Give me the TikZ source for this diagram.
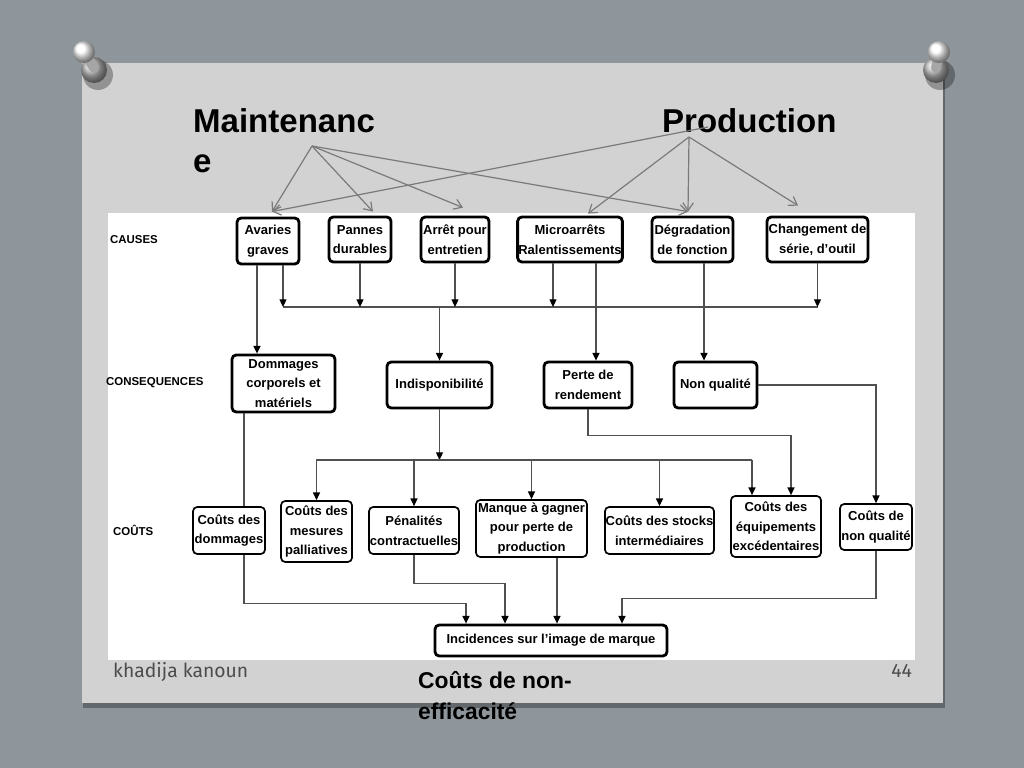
\documentclass[tikz,border=0pt]{standalone}
\usepackage{fontspec}
\setmainfont{Liberation Sans}
\newfontfamily\handfont{Fira Sans}
\usetikzlibrary{arrows.meta}

\definecolor{wallgray}{HTML}{8E969B}
\definecolor{panelgray}{HTML}{D2D2D2}
\definecolor{linegray}{HTML}{505050}
\definecolor{pengray}{HTML}{7A7A7A}

\newcommand{\mtitle}{\fontsize{47}{57}\selectfont\bfseries}
\newcommand{\msubtitle}{\fontsize{32.5}{45}\selectfont\bfseries}
\newcommand{\mboxfont}{\fontsize{18.5}{28}\selectfont\bfseries}
\newcommand{\mrowfont}{\fontsize{16.3}{20}\selectfont\bfseries}
\newcommand{\mfootfont}{\handfont\fontsize{27.5}{33}\selectfont}

\begin{document}
\begin{tikzpicture}[
  x=0.5mm, y=-0.5mm,
  cause/.style={draw, line width=4pt, rounded corners=6pt, fill=white,
    align=center, font=\mboxfont, inner sep=1pt},
  cost/.style={cause, line width=2.4pt},
  rowlbl/.style={anchor=west, inner sep=0pt, font=\mrowfont},
  wire/.style={draw=linegray, line width=1.8pt},
  tip/.style={wire, -{Triangle[length=11pt,width=10pt,color=black]}},
  pinarrow/.style={draw=pengray, line width=1.7pt, -{Straight Barb[length=11pt,width=15pt]}},
]
\useasboundingbox (0,0) rectangle (1024,768);

% Slide background and panel
\fill[wallgray] (0,0) rectangle (1024,768);
\fill[black, opacity=0.3] (83,67) rectangle (945,708);
\fill[panelgray] (82,63) rectangle (943,703);

% Pins
\foreach \hx/\hy/\bx/\by in {84/52/94/70, 939/52/936/70} {
  \fill[black, opacity=0.3] (\bx+4,\by+5) circle (15);
  \shade[ball color=gray!55] (\bx,\by) circle (13);
  \draw[gray!70, line width=14pt, line cap=round] (\hx,\hy) -- (\bx,\by-2);
  \shade[ball color=white] (\hx,\hy) circle (11);
}

% White diagram area
\fill[white] (108,213) rectangle (915,660);

% Titles
\node[anchor=north west, align=left, inner sep=0pt, font=\mtitle] (maint) at (193,108) {Maintenanc\\e};
\node[anchor=base west, inner sep=0pt, font=\mtitle] (prod) at (662,132) {Production};

% Row labels
\node[rowlbl] (lcauses) at (110,240) {CAUSES};
\node[rowlbl] (lcons) at (106,383) {CONSEQUENCES};
\node[rowlbl] (lcouts) at (113,530) {COÛTS};

% Causes
\node[cause, minimum width=31mm, minimum height=23mm] (avar) at (268,241) {Avaries\\graves};
\node[cause, minimum width=31mm, minimum height=22.5mm] (pann) at (360,239.5) {Pannes\\durables};
\node[cause, minimum width=34mm, minimum height=22.5mm] (arret) at (455,239.5) {Arrêt pour\\entretien};
\node[cause, minimum width=52mm, minimum height=22.5mm] (micro) at (570,239.5) {Microarrêts\\Ralentissements};
\node[cause, minimum width=40.5mm, minimum height=22.5mm] (degr) at (692.5,239.5) {Dégradation\\de fonction};
\node[cause, minimum width=50.5mm, minimum height=22.5mm] (chang) at (817.5,239.5) {Changement de\\série, d'outil};

% Consequences
\node[cause, minimum width=51.5mm, minimum height=28.5mm] (domm) at (283.5,383.5) {Dommages\\corporels et\\matériels};
\node[cause, minimum width=52.5mm, minimum height=23mm] (indisp) at (439.5,385) {Indisponibilité};
\node[cause, minimum width=44mm, minimum height=23mm] (perte) at (588,385) {Perte de\\rendement};
\node[cause, minimum width=41.5mm, minimum height=23mm] (nonq) at (715.5,385) {Non qualité};

% Costs
\node[cost, minimum width=36mm, minimum height=23.5mm] (cdom) at (229,530.5) {Coûts des\\dommages};
\node[cost, minimum width=35.5mm, minimum height=30.5mm] (cmes) at (316.5,531.5) {Coûts des\\mesures\\palliatives};
\node[cost, minimum width=45mm, minimum height=23.5mm] (pen) at (414,530.5) {Pénalités\\contractuelles};
\node[cost, minimum width=55.5mm, minimum height=28.5mm] (manq) at (531.5,528.5) {Manque à gagner\\pour perte de\\production};
\node[cost, minimum width=53.5mm, minimum height=23.5mm] (stock) at (659.5,530.5) {Coûts des stocks\\intermédiaires};
\node[cost, minimum width=45mm, minimum height=30.5mm] (equip) at (776,526.5) {Coûts des\\équipements\\excédentaires};
\node[cost, minimum width=36mm, minimum height=23mm] (cnq) at (876,527) {Coûts de\\non qualité};

\node[cause, minimum width=116mm, minimum height=15.5mm] (incid) at (551,640.5) {Incidences sur l'image de marque};

% Maintenance / Production arrows
\coordinate (mo) at (312,146);
\coordinate (po) at (689,137);
\coordinate (po2) at (708,127);
\foreach \n/\dx/\dy in {avar/2/2.5, pann/6.5/2, arret/4/4, degr/-2.25/2}
  \draw[pinarrow] (mo) -- ([xshift=\dx mm, yshift=\dy mm]\n.north);
\foreach \n/\dx/\dy in {micro/9/1, degr/-2.25/2, chang/-9.75/5}
  \draw[pinarrow] (po) -- ([xshift=\dx mm, yshift=\dy mm]\n.north);
\draw[pinarrow] (po2) -- ([xshift=2mm, yshift=2.5mm]avar.north);

% Causes -> bus
\coordinate (busL) at (283,307);
\coordinate (busR) at (818,307);
\draw[wire] (busL) -- (busR);
\draw[tip] (avar.south -| busL) -- (busL);
\foreach \n/\dx in {pann/0, arret/0, micro/-8.5, chang/0}
  \draw[tip] ([xshift=\dx mm]\n.south) -- ([xshift=\dx mm]\n.south |- busL);
\draw[tip] (busL -| indisp.north) -- (indisp.north);

% Causes -> consequences
\draw[tip] ([xshift=-5.5mm]avar.south) -- ([xshift=-5.5mm]avar.south |- domm.north);
\draw[tip] ([xshift=13mm]micro.south) -- ([xshift=13mm]micro.south |- perte.north);
\draw[tip] ([xshift=5.75mm]degr.south) -- ([xshift=5.75mm]degr.south |- nonq.north);

% Consequences -> costs
\coordinate (distL) at (316,460);
\coordinate (distR) at (752,460);
\draw[tip] (indisp.south) -- (indisp.south |- distL);
\draw[wire] (distL) -- (distR);
\foreach \n in {cmes, pen, manq, stock}
  \draw[tip] (distL -| \n.north) -- (\n.north);
\draw[tip] (distR) -- (distR |- equip.north);
\draw[tip] (perte.south) -- ++(0,26) -| ([xshift=7.5mm]equip.north);
\draw[tip] (nonq.east) -| (cnq.north);
\draw[wire] ([xshift=7.5mm]cdom.north) -- ([xshift=7.5mm]cdom.north |- domm.south);

% Costs -> image
\draw[tip] ([xshift=7.5mm]cdom.south) -- ++(0,49) -| ([xshift=-42.5mm]incid.north);
\draw[tip] (pen.south) -- ++(0,29) -| ([xshift=-23mm]incid.north);
\draw[tip] ([xshift=12.75mm]manq.south) -- ([xshift=12.75mm]manq.south |- incid.north);
\draw[tip] (cnq.south) -- ++(0,48) -| ([xshift=35.5mm]incid.north);

% Footer
\node[anchor=base west, inner sep=0pt, font=\mfootfont, text=black!70] (author) at (113,677) {khadija kanoun};
\node[anchor=base east, inner sep=0pt, font=\mfootfont, text=black!70] (pageno) at (912,677) {44};
\node[anchor=north west, align=left, inner sep=0pt, font=\msubtitle] (sub) at (418,671) {Coûts de non-\\efficacité};
\end{tikzpicture}
\end{document}
